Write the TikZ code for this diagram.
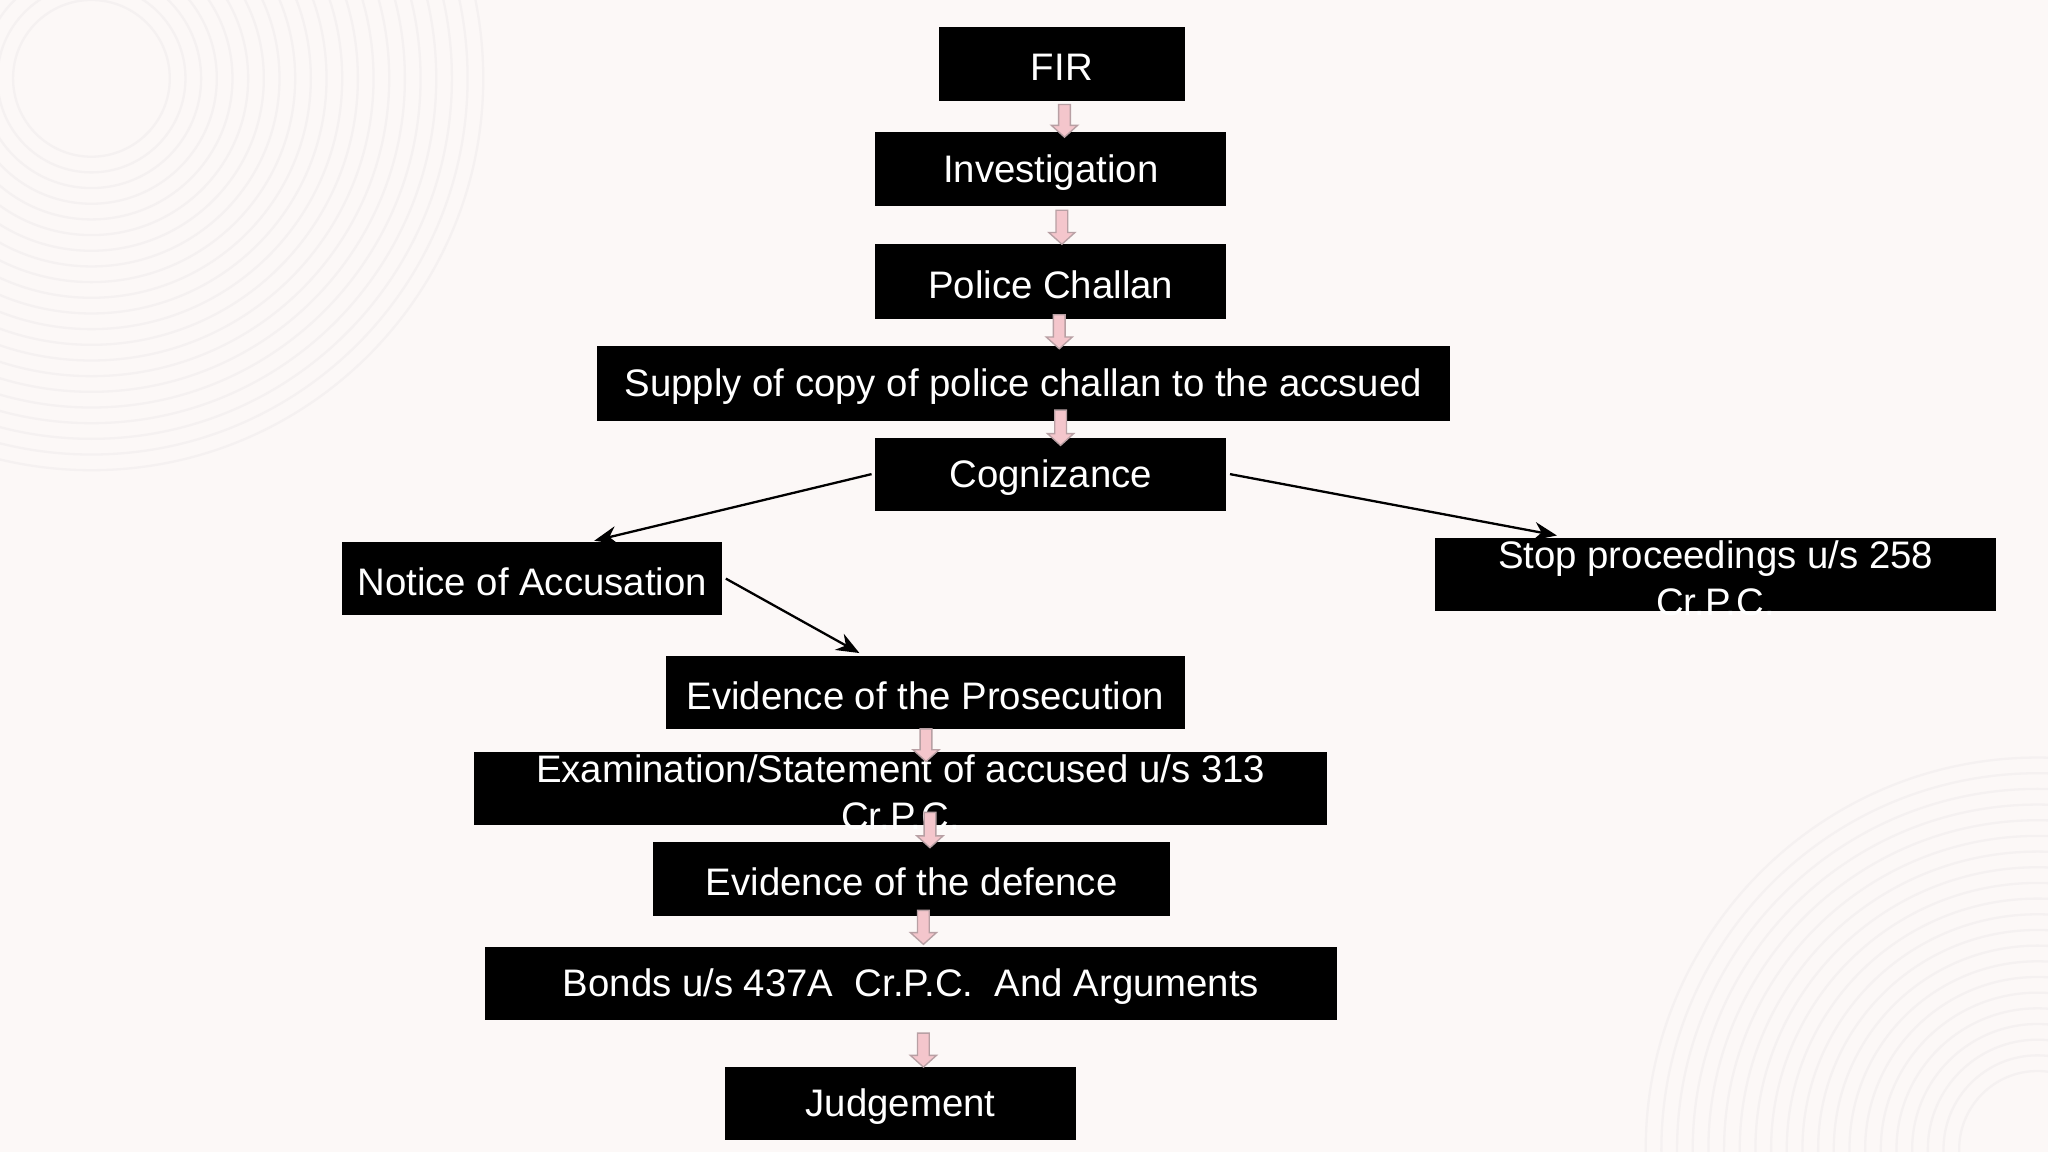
\documentclass[tikz,border=0pt]{standalone}
\usepackage{fontspec}
\setmainfont{Liberation Sans}
\usetikzlibrary{arrows.meta}
\definecolor{bg}{HTML}{FCF8F7}
\definecolor{ring}{HTML}{F5F1F1}
\definecolor{pinkfill}{HTML}{F4C6CC}
\definecolor{pinkline}{HTML}{B8A0A4}
\tikzset{
  box/.style={fill=black,inner sep=0pt},
  lbl/.style={text=white,font=\fontsize{8.35}{9.2}\selectfont,align=center,inner sep=0pt},
  conn/.style={-{Stealth[length=5pt,width=4pt]},line width=0.5pt},
  blk/.style={fill=pinkfill,draw=pinkline,line width=0.3pt}
}
\newcommand{\pinkarr}[3]{% x, ytop, ybot
  \draw[blk] (#1-4.5,#2) -- (#1+4.5,#2) -- (#1+4.5,{#3-9}) -- (#1+10,{#3-9}) -- (#1,#3) -- (#1-10,{#3-9}) -- (#1-4.5,{#3-9}) -- cycle;}
\newcommand{\bx}[6]{% name,l,t,r,b,text
  \node[box,minimum width={(#4-#2)*0.01cm},minimum height={(#5-#3)*0.01cm}] (#1) at ({(#2+#4)/2},{(#3+#5)/2}) {};
  \node[lbl] (#1t) at ([yshift=-0.025cm]#1) {#6};}
\begin{document}
\begin{tikzpicture}[x=0.01cm,y=-0.01cm]
\fill[bg] (0,0) rectangle (1568,882);
\useasboundingbox (0,0) rectangle (1568,882);
\begin{scope}
\clip (0,0) rectangle (1568,882);
\foreach \r in {60,72,...,300} {\draw[ring,line width=0.5pt] (70,60) circle (\r);}
\foreach \r in {60,72,...,300} {\draw[ring,line width=0.5pt] (1560,880) circle (\r);}
\end{scope}
\bx{fir}{719}{21}{907}{77}{FIR}
\bx{inv}{670}{101}{939}{158}{Investigation}
\bx{pc}{670}{187}{939}{244}{Police Challan}
\bx{sup}{457}{265}{1110}{322}{Supply of copy of police challan to the accsued}
\bx{cog}{670}{335}{939}{391}{Cognizance}
\bx{noa}{262}{415}{553}{471}{Notice of Accusation}
\bx{stop}{1099}{412}{1528}{468}{Stop proceedings u/s 258\\[1pt]Cr.P.C.}
\bx{evp}{510}{502}{907}{558}{Evidence of the Prosecution}
\bx{exa}{363}{576}{1016}{632}{Examination/Statement of accused u/s 313\\[1pt]Cr.P.C.}
\bx{evd}{500}{645}{896}{701}{Evidence of the defence}
\bx{bon}{371}{725}{1024}{781}{Bonds u/s 437A\ \ Cr.P.C.\ \ And Arguments}
\bx{jud}{555}{817}{824}{873}{Judgement}
\pinkarr{815}{80}{105}
\pinkarr{813}{161}{187}
\pinkarr{811}{241}{267}
\pinkarr{812}{314}{341}
\pinkarr{709}{558}{583}
\pinkarr{712}{622}{649}
\pinkarr{707}{697}{723}
\pinkarr{707}{791}{817}
\coordinate (c1) at (455,414);
\coordinate (c2) at (1192,410);
\coordinate (c3) at (658,500);
\draw[conn] (cog.west) ++(-2,0) -- (c1);
\draw[conn] (cog.east) ++(2,0) -- (c2);
\draw[conn] (noa.east) ++(2,0) -- (c3);
\end{tikzpicture}
\end{document}
